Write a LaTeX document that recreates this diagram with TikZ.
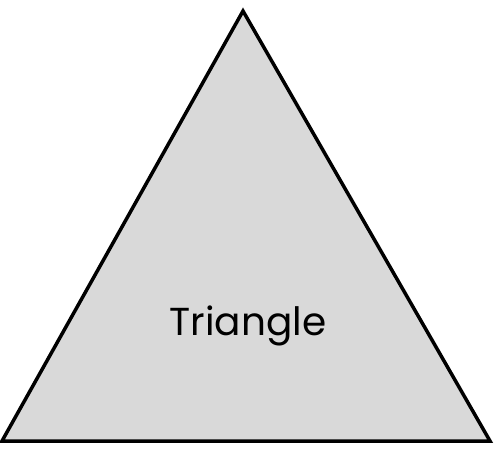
\documentclass[tikz,border=0pt]{standalone}
\usepackage{fontspec}
\setmainfont{Poppins}
\definecolor{trifill}{HTML}{D9D9D9}
\tikzset{tri/.style={draw=black,fill=trifill,line width=3.5pt,line join=miter},
lab/.style={font=\fontsize{39}{46}\selectfont,text=black,inner sep=0pt}}
\begin{document}
\begin{tikzpicture}[x=1pt,y=-1pt]
\useasboundingbox (0,0) rectangle (500,454);
\coordinate (top) at (243,11);
\coordinate (bl) at (2,441);
\coordinate (br) at (490,441);
\draw[tri] (top) -- (br) -- (bl) -- cycle;
\node[lab,anchor=base] (t) at (248,335) {Triangle};
\end{tikzpicture}
\end{document}
